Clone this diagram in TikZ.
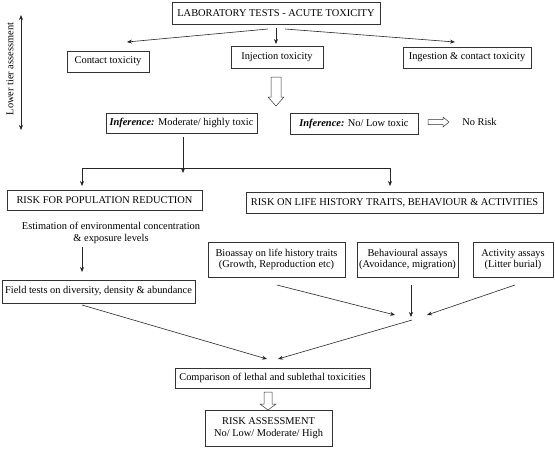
\documentclass[tikz,border=0pt]{standalone}
\usepackage{fontspec}
\setmainfont{Liberation Serif}
\usetikzlibrary{arrows.meta,positioning}

\begin{document}
\begin{tikzpicture}[
  x=1pt, y=-1pt,
  >={Stealth[length=5pt,width=4pt]},
  font=\fontsize{10.4}{11.5}\selectfont,
  box/.style={draw=black!80, line width=0.6pt, align=center, inner sep=2pt},
  flow/.style={->, line width=0.6pt, black!85},
  plain/.style={line width=0.6pt, black!85},
  hollow/.style={draw=black!80, line width=0.5pt, fill=white},
]
  \useasboundingbox (0,0) rectangle (555,448);
  % lower tier
  \node[box, minimum width=208pt, minimum height=22pt] (lab) at (276,13) {LABORATORY TESTS - ACUTE TOXICITY};
  \node[box, minimum width=82pt, minimum height=21pt] (contact) at (108,61.5) {Contact toxicity};
  \node[box, minimum width=92pt, minimum height=22pt] (inject) at (277,57) {Injection toxicity};
  \node[box, minimum width=128pt, minimum height=21pt] (ingest) at (467,57.5) {Ingestion \& contact toxicity};
  \node[box, minimum width=151pt, minimum height=20pt] (infmod) at (181.5,123) {\textbf{\textit{Inference:}} Moderate/ highly toxic};
  \node[box, minimum width=128pt, minimum height=21pt] (inflow) at (354,123.5) {\textbf{\textit{Inference:}} No/ Low toxic};
  \node (norisk) at (479.5,122) {No Risk};
  \node[rotate=90] (tier) at (10,69) {Lower tier assessment};
  \coordinate (tiertop) at (21,15);
  \coordinate (tierbot) at (21,130);
  \draw[<->, plain] (tiertop) -- (tierbot);

  \coordinate (labl) at (268,29);
  \coordinate (labm) at (276,28);
  \coordinate (labr) at (285,29);
  \coordinate (contactin) at (127,42);
  \coordinate (injectin) at (276,44);
  \coordinate (ingestin) at (455,42);
  \draw[flow] (labl) -- (contactin);
  \draw[flow] (labm) -- (injectin);
  \draw[flow] (labr) -- (ingestin);

  % open arrows
  \draw[hollow] (271,77) -- (281,77) -- (281,97) -- (284,97) -- (276,106)
    -- (268,97) -- (271,97) -- cycle;
  \draw[hollow] (428,119.5) -- (443,119.5) -- (443,117) -- (449,122) -- (443,127)
    -- (443,124.5) -- (428,124.5) -- cycle;

  % higher tier
  \node[box, minimum width=195pt, minimum height=20pt] (riskpop) at (104.5,200) {RISK FOR POPULATION REDUCTION};
  \node[box, minimum width=297pt, minimum height=21pt] (risklife) at (394.5,202.5) {RISK ON LIFE HISTORY TRAITS, BEHAVIOUR \& ACTIVITIES};
  \coordinate (split) at (183,168);
  \draw[flow] (infmod.south -| split) ++(0,4) -- ([yshift=-5pt]split);
  \draw[plain] (82,168) -- (390,168);
  \draw[flow] (82,168) -- (82,186);
  \draw[flow] (390,168) -- (390,186);

  \node[align=center] (estim) at (111,233) {Estimation of environmental concentration\\\& exposure levels};
  \node[box, minimum width=193pt, minimum height=23pt] (field) at (98.5,291.5) {Field tests on diversity, density \& abundance};
  \draw[flow] (82,247) -- (82,272);

  \node[box, minimum width=137pt, minimum height=35pt] (bio) at (276.5,259.5) {Bioassay on life history traits\\(Growth, Reproduction etc)};
  \node[box, minimum width=99pt, minimum height=35pt] (behav) at (407.5,259.5) {Behavioural assays\\(Avoidance, migration)};
  \node[box, minimum width=80pt, minimum height=35pt] (activ) at (513,259.5) {Activity assays\\(Litter burial)};

  \coordinate (bioout) at (277,285);
  \coordinate (behavout) at (411,285);
  \coordinate (activout) at (515,285);
  \draw[flow] (bioout) -- (395,315);
  \draw[flow] (behavout) -- (411,317);
  \draw[flow] (activout) -- (427,315);
  \coordinate (merge) at (412,320);

  \node[box, minimum width=195pt, minimum height=20pt] (compare) at (272.5,378) {Comparison of lethal and sublethal toxicities};
  \coordinate (fieldout) at (82,305);
  \draw[flow] (fieldout) -- (267,359);
  \draw[flow] (merge) -- (278,359);

  \draw[hollow] (264,392) -- (272,392) -- (272,404) -- (276,404) -- (268,410)
    -- (260,404) -- (264,404) -- cycle;
  \node[box, minimum width=127pt, minimum height=36pt] (riskass) at (268.5,428) {RISK ASSESSMENT\\No/ Low/ Moderate/ High};
\end{tikzpicture}
\end{document}
